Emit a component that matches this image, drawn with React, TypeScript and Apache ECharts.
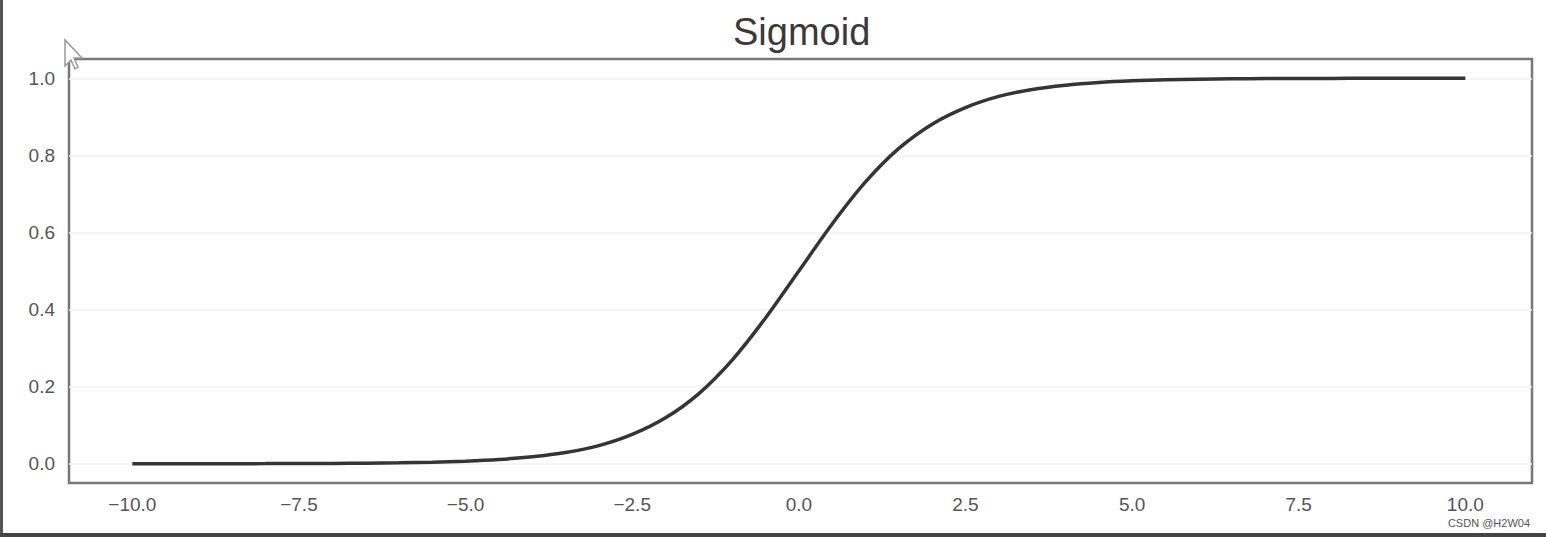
import React, { useEffect, useRef } from "react";
import * as echarts from "echarts";

const xValues = [
  -10, -9.5, -9, -8.5, -8, -7.5, -7, -6.5, -6, -5.5, -5, -4.5, -4, -3.5, -3, -2.5, -2, -1.5, -1, -0.5,
  0, 0.5, 1, 1.5, 2, 2.5, 3, 3.5, 4, 4.5, 5, 5.5, 6, 6.5, 7, 7.5, 8, 8.5, 9, 9.5, 10,
];
const yValues = [
  0.0, 0.0001, 0.0001, 0.0002, 0.0003, 0.0006, 0.0009, 0.0015, 0.0025, 0.0041, 0.0067, 0.011, 0.018,
  0.029, 0.047, 0.076, 0.119, 0.182, 0.269, 0.378, 0.5, 0.622, 0.731, 0.818, 0.881, 0.924, 0.953,
  0.971, 0.982, 0.989, 0.9933, 0.9959, 0.9975, 0.9985, 0.9991, 0.9994, 0.9997, 0.9998, 0.9999,
  0.9999, 1.0,
];
const xTicks = [-10, -7.5, -5, -2.5, 0, 2.5, 5, 7.5, 10];
const yTicks = [0, 0.2, 0.4, 0.6, 0.8, 1.0];
const titleText = "Sigmoid";
const watermark = "CSDN @H2W04";

const fmt = (v: number) => {
  const s = Math.abs(v).toFixed(1);
  return v < 0 ? "\u2212" + s : s;
};

export default function App() {
  const ref = useRef<HTMLDivElement>(null);
  useEffect(() => {
    if (!ref.current) return;
    const chart = echarts.init(ref.current, null, { renderer: "svg" });
    const font = "'Liberation Sans', Arial, sans-serif";
    chart.setOption({
      animation: false,
      backgroundColor: "#ffffff",
      title: {
        text: titleText,
        left: 728,
        top: 8,
        textStyle: { fontFamily: font, fontSize: 38, fontWeight: "normal", color: "#3a3a3a" },
      },
      grid: {
        show: true,
        left: 69,
        right: 14,
        top: 59,
        bottom: 54,
        borderColor: "#777777",
        borderWidth: 2.5,
        backgroundColor: "#ffffff",
      },
      xAxis: {
        type: "value",
        min: -10.95,
        max: 11,
        axisLine: { show: false },
        axisTick: { show: false, customValues: xTicks },
        splitLine: { show: false },
        axisLabel: {
          customValues: xTicks,
          formatter: (v: number) => fmt(v),
          color: "#555555",
          fontFamily: font,
          fontSize: 19,
          margin: 12,
        },
      },
      yAxis: {
        type: "value",
        min: -0.05,
        max: 1.05,
        axisLine: { show: false },
        axisTick: { show: false, customValues: yTicks },
        splitLine: { show: true, lineStyle: { color: "#f2f2f2", width: 1.5 } },
        axisLabel: {
          customValues: yTicks,
          formatter: (v: number) => fmt(v),
          color: "#555555",
          fontFamily: font,
          fontSize: 19,
          margin: 14,
        },
      },
      series: [
        {
          type: "line",
          data: xValues.map((x, i) => [x, yValues[i]]),
          showSymbol: false,
          smooth: 0.3,
          lineStyle: { color: "#353535", width: 3.5 },
        },
      ],
      graphic: [
        { type: "rect", left: 0, top: 0, shape: { width: 3, height: 537 }, style: { fill: "#555555" } },
        { type: "rect", left: 0, top: 533, shape: { width: 1546, height: 4 }, style: { fill: "#444444" } },
        {
          type: "polygon",
          shape: { points: [[65, 40], [65, 66], [71, 60], [75, 69], [78, 67], [74, 58], [82, 58]] },
          style: { fill: "#ffffff", stroke: "#999999", lineWidth: 1.5 },
        },
        {
          type: "text",
          right: 16,
          top: 517,
          style: { text: watermark, fill: "#555555", fontSize: 11, fontFamily: font },
        },
      ],
    });
    return () => chart.dispose();
  }, []);
  return (
    <div
      ref={ref}
      style={{ position: "fixed", left: 0, top: 0, width: 1546, height: 537 }}
    />
  );
}
